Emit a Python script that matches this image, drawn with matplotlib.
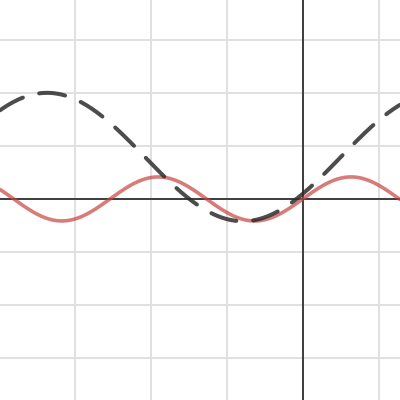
import numpy as np
from matplotlib import pyplot as plt

# view window (grid units, one grid square = 1 x 1)
x_min, x_max = -3.99, 1.28
y_min, y_max = -3.79, 3.75

# red wave
red_amp = 0.415
red_period = 2.54

# dashed wave
dash_amp = 1.21
dash_offset = 0.79
dash_period = 5.16
dash_trough = -0.79

x = np.linspace(x_min, x_max, 800)
red_y = red_amp * np.sin(2 * np.pi * x / red_period)
dash_y = dash_offset - dash_amp * np.cos(2 * np.pi * (x - dash_trough) / dash_period)

fig = plt.figure(figsize=(4, 4), dpi=100)
ax = fig.add_axes([0, 0, 1, 1])

# grid
for gx in range(-4, 2):
    ax.axvline(gx, color="#e0e0e0", lw=1.4, zorder=0)
for gy in range(-4, 4):
    ax.axhline(gy, color="#e0e0e0", lw=1.4, zorder=0)
ax.axhline(0, color="#222222", lw=1.2, zorder=1)
ax.axvline(0, color="#222222", lw=1.2, zorder=1)

ax.plot(x, red_y, color="#c74440", alpha=0.7, lw=2.6, solid_capstyle="round", zorder=2)
ax.plot(x, dash_y, color="#2d2d2d", alpha=0.85, lw=2.9, dashes=(6.5, 4.2),
        dash_capstyle="round", zorder=3)

ax.set_xlim(x_min, x_max)
ax.set_ylim(y_min, y_max)
ax.axis("off")

fig.savefig("out.png", dpi=100)
